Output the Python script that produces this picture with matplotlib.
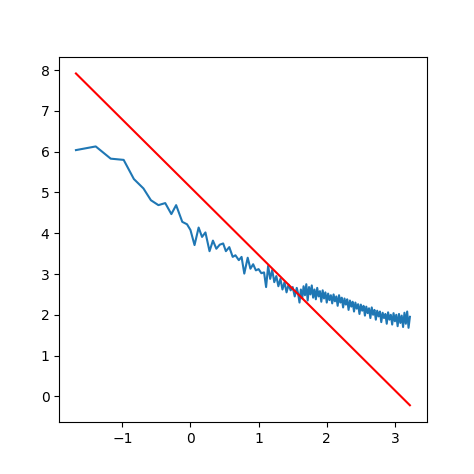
import matplotlib
matplotlib.use('Agg')
import matplotlib.pyplot as plt
import numpy as np

# blue curve
x_vals = [
    -1.68, -1.39, -1.17, -0.98, -0.83, -0.69, -0.58, -0.47, -0.37, -0.28,
    -0.21, -0.12, -0.05, 0.00, 0.06, 0.12, 0.17, 0.22, 0.28, 0.33,
    0.38, 0.43, 0.48, 0.52, 0.57, 0.62, 0.66, 0.71, 0.75, 0.79,
    0.84, 0.88, 0.92, 0.96, 1.00, 1.04, 1.08, 1.11, 1.14, 1.17,
    1.20, 1.23, 1.26, 1.29, 1.32, 1.35, 1.38, 1.41, 1.44, 1.47,
    1.50, 1.53, 1.56, 1.58, 1.60, 1.62, 1.64, 1.66, 1.68, 1.70,
    1.72, 1.74, 1.76, 1.78, 1.80, 1.82, 1.84, 1.86, 1.88, 1.90,
    1.92, 1.94, 1.96, 1.98, 2.00, 2.02, 2.04, 2.06, 2.08, 2.10,
    2.12, 2.14, 2.16, 2.18, 2.20, 2.22, 2.24, 2.26, 2.28, 2.30,
    2.32, 2.34, 2.36, 2.38, 2.40, 2.42, 2.44, 2.46, 2.48, 2.50,
    2.52, 2.54, 2.56, 2.58, 2.60, 2.62, 2.64, 2.66, 2.68, 2.70,
    2.72, 2.74, 2.76, 2.78, 2.80, 2.82, 2.84, 2.86, 2.88, 2.90,
    2.92, 2.94, 2.96, 2.98, 3.00, 3.02, 3.04, 3.06, 3.08, 3.10,
    3.12, 3.14, 3.16, 3.18, 3.20, 3.22,
]
y_vals = [
    6.04, 6.13, 5.83, 5.80, 5.33, 5.10, 4.81, 4.69, 4.74, 4.47,
    4.69, 4.28, 4.22, 4.08, 3.71, 4.14, 3.91, 4.02, 3.56, 3.82,
    3.62, 3.72, 3.75, 3.56, 3.66, 3.42, 3.46, 3.34, 3.42, 3.01,
    3.40, 3.13, 3.24, 3.09, 3.12, 3.02, 3.04, 2.68, 3.20, 2.88,
    3.10, 2.80, 2.95, 2.70, 2.88, 2.62, 2.80, 2.55, 2.74, 2.60,
    2.68, 2.45, 2.66, 2.52, 2.30, 2.62, 2.40, 2.70, 2.48, 2.75,
    2.35, 2.68, 2.50, 2.72, 2.42, 2.62, 2.38, 2.66, 2.45, 2.58,
    2.32, 2.60, 2.40, 2.55, 2.30, 2.52, 2.36, 2.48, 2.28, 2.50,
    2.33, 2.45, 2.22, 2.48, 2.30, 2.42, 2.18, 2.40, 2.25, 2.38,
    2.12, 2.35, 2.20, 2.32, 2.08, 2.30, 2.15, 2.26, 2.02, 2.25,
    2.10, 2.22, 1.98, 2.20, 2.04, 2.16, 1.92, 2.18, 2.00, 2.12,
    1.88, 2.10, 1.96, 2.08, 1.82, 2.05, 1.92, 2.02, 1.78, 2.06,
    1.88, 2.00, 1.76, 2.04, 1.84, 2.00, 1.72, 2.02, 1.80, 1.98,
    1.70, 2.05, 1.78, 2.08, 1.68, 1.95,
]

# red fitted line endpoints
fit_x = [-1.68, 3.22]
fit_y = [7.92, -0.22]

fig = plt.figure(figsize=(4.74, 4.74), dpi=100)
ax = fig.add_subplot(111)
ax.plot(x_vals, y_vals)
ax.plot(fit_x, fit_y, color='red')

fig.savefig('out.png', dpi=100)
